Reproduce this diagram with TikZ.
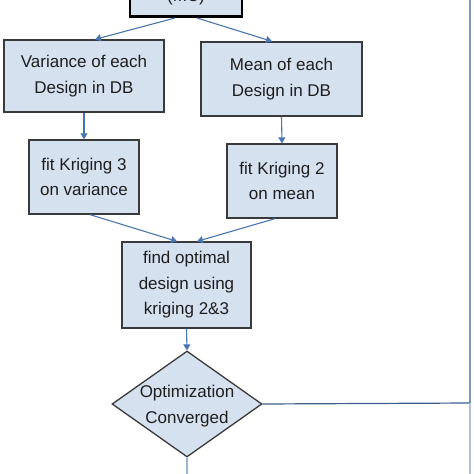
\documentclass[tikz,border=0pt]{standalone}
\usepackage{fontspec}
\setmainfont{Liberation Sans}
\usetikzlibrary{arrows.meta,shapes.geometric}
\definecolor{boxfill}{RGB}{214,225,240}
\definecolor{boxborder}{RGB}{58,58,58}
\definecolor{arrowc}{RGB}{74,118,176}
\definecolor{txtc}{RGB}{30,30,30}
\tikzset{
  box/.style={draw=boxborder, fill=boxfill, line width=1.3pt, inner sep=0pt, align=center,
    text=txtc, font=\fontsize{17}{25.5}\selectfont},
  conn/.style={draw=arrowc, line width=1.1pt, -{Triangle[length=6pt,width=7pt]}},
  lbl/.style={inner sep=0pt, align=center, text=txtc, font=\fontsize{17}{25.5}\selectfont}
}
\begin{document}
\begin{tikzpicture}[x=1pt,y=-1pt]
\clip (0,0) rectangle (474,474);
\fill[white] (0,0) rectangle (474,474);
% top box (cut off)
\node[box, draw=black, line width=2.8pt, minimum width=112pt, minimum height=70pt, anchor=south, text depth=0pt] (top) at (186,18) {};
\node[lbl, anchor=base] (toptxt) at (186,1) {(MC)};
% boxes
\node[box, minimum width=160pt, minimum height=72pt] (var) at (84,76) {Variance of each\\Design in DB};
\node[box, minimum width=161pt, minimum height=74pt] (mean) at (281.5,79) {Mean of each\\Design in DB};
\node[box, minimum width=110pt, minimum height=74pt] (k3) at (84,177) {fit Kriging 3\\on variance};
\node[box, minimum width=110pt, minimum height=74pt] (k2) at (282,181) {fit Kriging 2\\on mean};
\node[box, minimum width=129pt, minimum height=86pt] (find) at (186.5,285) {find optimal\\design using\\kriging 2\&3};
\node[box, shape=diamond, minimum width=150pt, minimum height=106pt] (conv) at (187,404) {};
\node[lbl] (convtxt) at (187,406) {Optimization\\Converged};
% connectors
\draw[conn] ([xshift=-11pt]top.south) -- ([xshift=11pt]var.north);
\draw[conn] ([xshift=11pt]top.south) -- ([xshift=-9.5pt]mean.north);
\draw[conn] (var.south) -- (k3.north);
\draw[conn] (mean.south) -- (k2.north);
\draw[conn] ([xshift=6pt]k3.south) -- ([xshift=-9.5pt]find.north);
\draw[conn] ([xshift=-7pt]k2.south) -- ([xshift=10.5pt]find.north);
\draw[conn] (find.south) -- (conv.north);
\coordinate (rc) at (470,403);
\coordinate (rtop) at (470,-10);
\coordinate (rbot) at (470,480);
\coordinate (dn) at (187,480);
\draw[draw=arrowc!80!black, line width=1.2pt] (conv.east) -- (rc) -- (rtop);
\draw[draw=arrowc!45, line width=1.2pt] (rc) -- (rbot);
\draw[conn, draw=arrowc!55] (conv.south) -- (dn);
\end{tikzpicture}
\end{document}
